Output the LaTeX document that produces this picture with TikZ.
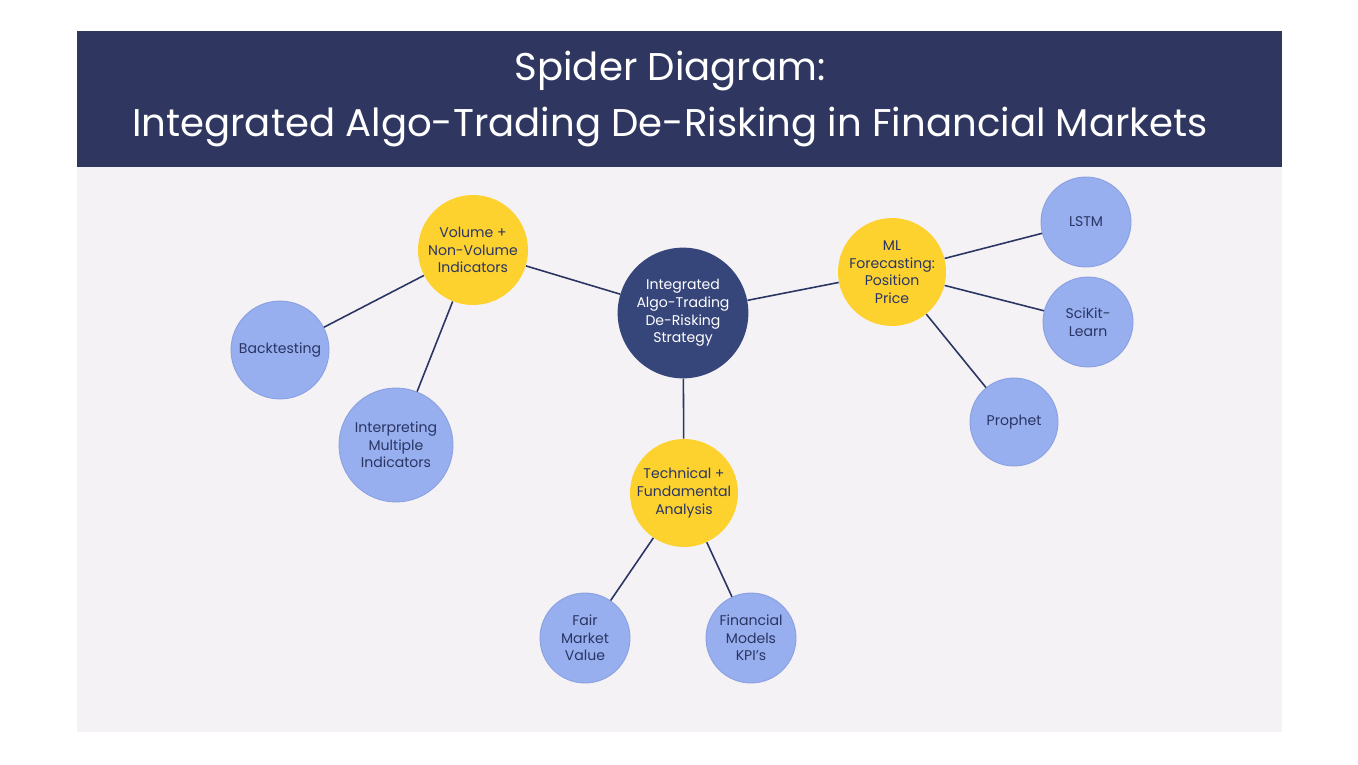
\documentclass[tikz,border=0pt]{standalone}
\usepackage{fontspec}
\setmainfont{Poppins}
\begin{document}
\begin{tikzpicture}[x=0.02cm,y=-0.02cm,
  txt/.style={text=navy,align=center,font=\fontsize{8}{10}\selectfont},
  yel/.style={circle,fill=yel,txt,inner sep=0pt},
  blu/.style={circle,fill=blu,draw=bluD,line width=0.5pt,txt,inner sep=0pt},
  lk/.style={draw=navy,line width=0.9pt}]
\definecolor{navy}{HTML}{2A3563}
\definecolor{hdr}{HTML}{2F3760}
\definecolor{panel}{HTML}{F4F2F5}
\definecolor{yel}{HTML}{FDD22E}
\definecolor{blu}{HTML}{97AEEF}
\definecolor{bluD}{HTML}{8AA0E0}
\definecolor{ctr}{HTML}{36457A}
\useasboundingbox (0,0) rectangle (1358,764);
\fill[white] (0,0) rectangle (1358,764);
\fill[panel] (77,167) rectangle (1282,732);
\fill[hdr] (77,31) rectangle (1282,167);
\node[text=white,font=\fontsize{22}{32}\selectfont,align=center] (title) at (670,99) {Spider Diagram:\\Integrated Algo-Trading De-Risking in Financial Markets};
\node[circle,fill=ctr,minimum size=124\pgflinewidth*0+2.48cm,txt,text=white] (c) at (683,313) {Integrated\\Algo-Trading\\De-Risking\\Strategy};
\node[yel,minimum size=2.2cm] (vol) at (473,250) {Volume +\\Non-Volume\\Indicators};
\node[yel,minimum size=2.16cm] (ml) at (892,272) {ML\\Forecasting:\\Position\\Price};
\node[yel,minimum size=2.16cm] (tech) at (684,493) {Technical +\\Fundamental\\Analysis};
\node[blu,minimum size=1.96cm] (bt) at (280,350) {Backtesting};
\node[blu,minimum size=2.28cm] (ip) at (396,445) {Interpreting\\Multiple\\Indicators};
\node[blu,minimum size=1.8cm] (lstm) at (1086,222) {LSTM};
\node[blu,minimum size=1.8cm] (sk) at (1088,322) {SciKit-\\Learn};
\node[blu,minimum size=1.76cm] (pr) at (1014,422) {Prophet};
\node[blu,minimum size=1.8cm] (fair) at (585,638) {Fair\\Market\\Value};
\node[blu,minimum size=1.8cm] (fin) at (751,638) {Financial\\Models\\KPI's};
\path[lk] (c)--(vol) (c)--(ml) (c)--(tech) (vol)--(bt) (vol)--(ip)
 (ml)--(lstm) (ml)--(sk) (ml)--(pr) (tech)--(fair) (tech)--(fin);
\end{tikzpicture}
\end{document}
